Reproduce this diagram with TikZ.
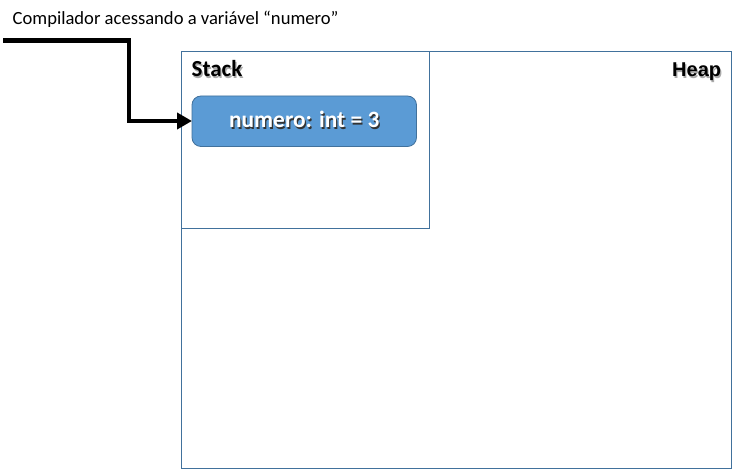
\documentclass[tikz,border=0pt]{standalone}
\usepackage{fontspec}
\setmainfont{Carlito}
\newfontfamily\heapfont{Liberation Sans}
\usetikzlibrary{arrows.meta}
\definecolor{boxline}{HTML}{41719C}
\definecolor{nodefill}{HTML}{5B9BD5}
\definecolor{shadowc}{HTML}{555555}
\begin{document}
\begin{tikzpicture}[x=1pt,y=-1pt,
  region/.style={draw=boxline,line width=0.9pt},
  varbox/.style={draw=boxline,fill=nodefill,rounded corners=9pt,line width=0.8pt},
  titletext/.style={font=\bfseries\fontsize{23}{25}\selectfont,inner sep=0pt},
  heaptext/.style={font=\heapfont\bfseries\fontsize{20}{22}\selectfont,inner sep=0pt},
  vartextstyle/.style={font=\bfseries\fontsize{23.4}{25}\selectfont,inner sep=0pt,anchor=base},
  pointer/.style={line width=4.5pt,-{Triangle[length=15pt,width=16pt]}}]
\useasboundingbox (0,0) rectangle (740,470);
\fill[white] (0,0) rectangle (740,470);
% regions
\draw[region] (181.5,51.5) rectangle (731,468) coordinate (heapbr);
\draw[region] (181.5,51.5) rectangle (429,228);
% variable box
\draw[varbox] (192,96) rectangle (416.5,146.5);
\node[vartextstyle,text=shadowc!60!black] at (305.5,129.2) {numero: int = 3};
\node[vartextstyle,text=white] (vartext) at (304.25,128) {numero: int = 3};
\coordinate (varwest) at (192,121);
% titles
\node[titletext,anchor=base west,text=shadowc!50] at (192.7,78.2) {Stack};
\node[titletext,anchor=base west] (stack) at (191.5,77) {Stack};
\node[heaptext,anchor=base east,text=shadowc!50] at (722.5,78.2) {Heap};
\node[heaptext,anchor=base east] (heap) at (721.3,77) {Heap};
% caption
\node[font=\fontsize{18.6}{20}\selectfont,anchor=base west,inner sep=0pt] (caption) at (12.5,25) {Compilador acessando a variável “numero”};
% pointer
\coordinate (start) at (3,40.5);
\draw[pointer] (start) -| (129,121) -- (varwest);
\end{tikzpicture}
\end{document}
